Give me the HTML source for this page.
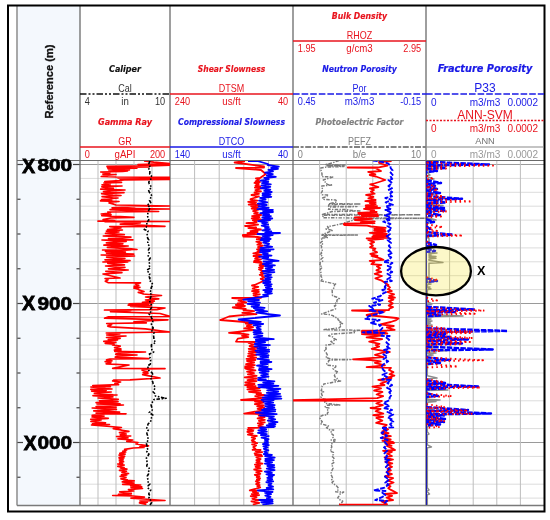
<!DOCTYPE html>
<html><head><meta charset="utf-8"><title>Well log</title>
<style>html,body{margin:0;padding:0;background:#fff;width:550px;height:520px;overflow:hidden}svg{display:block}</style>
</head><body><svg width="550" height="520" viewBox="0 0 550 520"><rect x="17.5" y="6" width="62.5" height="499.5" fill="#f4f8fd"/><line x1="80" y1="164.5" x2="544" y2="164.5" stroke="#9a9a9a" stroke-width="1" /><line x1="80" y1="178.4" x2="544" y2="178.4" stroke="#dcdcdc" stroke-width="1" /><line x1="80" y1="192.3" x2="544" y2="192.3" stroke="#dcdcdc" stroke-width="1" /><line x1="80" y1="206.2" x2="544" y2="206.2" stroke="#dcdcdc" stroke-width="1" /><line x1="80" y1="220.1" x2="544" y2="220.1" stroke="#dcdcdc" stroke-width="1" /><line x1="80" y1="234.0" x2="544" y2="234.0" stroke="#dcdcdc" stroke-width="1" /><line x1="80" y1="247.9" x2="544" y2="247.9" stroke="#dcdcdc" stroke-width="1" /><line x1="80" y1="261.8" x2="544" y2="261.8" stroke="#dcdcdc" stroke-width="1" /><line x1="80" y1="275.7" x2="544" y2="275.7" stroke="#dcdcdc" stroke-width="1" /><line x1="80" y1="289.6" x2="544" y2="289.6" stroke="#dcdcdc" stroke-width="1" /><line x1="80" y1="303.5" x2="544" y2="303.5" stroke="#9a9a9a" stroke-width="1" /><line x1="80" y1="317.4" x2="544" y2="317.4" stroke="#dcdcdc" stroke-width="1" /><line x1="80" y1="331.3" x2="544" y2="331.3" stroke="#dcdcdc" stroke-width="1" /><line x1="80" y1="345.2" x2="544" y2="345.2" stroke="#dcdcdc" stroke-width="1" /><line x1="80" y1="359.1" x2="544" y2="359.1" stroke="#dcdcdc" stroke-width="1" /><line x1="80" y1="373.0" x2="544" y2="373.0" stroke="#dcdcdc" stroke-width="1" /><line x1="80" y1="386.9" x2="544" y2="386.9" stroke="#dcdcdc" stroke-width="1" /><line x1="80" y1="400.8" x2="544" y2="400.8" stroke="#dcdcdc" stroke-width="1" /><line x1="80" y1="414.7" x2="544" y2="414.7" stroke="#dcdcdc" stroke-width="1" /><line x1="80" y1="428.6" x2="544" y2="428.6" stroke="#dcdcdc" stroke-width="1" /><line x1="80" y1="442.5" x2="544" y2="442.5" stroke="#9a9a9a" stroke-width="1" /><line x1="80" y1="456.4" x2="544" y2="456.4" stroke="#dcdcdc" stroke-width="1" /><line x1="80" y1="470.3" x2="544" y2="470.3" stroke="#dcdcdc" stroke-width="1" /><line x1="80" y1="484.2" x2="544" y2="484.2" stroke="#dcdcdc" stroke-width="1" /><line x1="80" y1="498.1" x2="544" y2="498.1" stroke="#dcdcdc" stroke-width="1" /><line x1="98.0" y1="160.5" x2="98.0" y2="505.5" stroke="#bdbdbd" stroke-width="1" /><line x1="116.0" y1="160.5" x2="116.0" y2="505.5" stroke="#bdbdbd" stroke-width="1" /><line x1="134.0" y1="160.5" x2="134.0" y2="505.5" stroke="#bdbdbd" stroke-width="1" /><line x1="152.0" y1="160.5" x2="152.0" y2="505.5" stroke="#bdbdbd" stroke-width="1" /><line x1="194.6" y1="160.5" x2="194.6" y2="505.5" stroke="#bdbdbd" stroke-width="1" /><line x1="219.2" y1="160.5" x2="219.2" y2="505.5" stroke="#bdbdbd" stroke-width="1" /><line x1="243.8" y1="160.5" x2="243.8" y2="505.5" stroke="#bdbdbd" stroke-width="1" /><line x1="268.4" y1="160.5" x2="268.4" y2="505.5" stroke="#bdbdbd" stroke-width="1" /><line x1="319.6" y1="160.5" x2="319.6" y2="505.5" stroke="#bdbdbd" stroke-width="1" /><line x1="346.2" y1="160.5" x2="346.2" y2="505.5" stroke="#bdbdbd" stroke-width="1" /><line x1="372.8" y1="160.5" x2="372.8" y2="505.5" stroke="#bdbdbd" stroke-width="1" /><line x1="399.4" y1="160.5" x2="399.4" y2="505.5" stroke="#bdbdbd" stroke-width="1" /><line x1="449.6" y1="160.5" x2="449.6" y2="505.5" stroke="#bdbdbd" stroke-width="1" /><line x1="473.2" y1="160.5" x2="473.2" y2="505.5" stroke="#bdbdbd" stroke-width="1" /><line x1="496.8" y1="160.5" x2="496.8" y2="505.5" stroke="#bdbdbd" stroke-width="1" /><line x1="520.4" y1="160.5" x2="520.4" y2="505.5" stroke="#bdbdbd" stroke-width="1" /><line x1="17" y1="164.5" x2="23" y2="164.5" stroke="#444" stroke-width="1.2" /><line x1="73" y1="164.5" x2="80" y2="164.5" stroke="#444" stroke-width="1.2" /><line x1="17" y1="199.25" x2="20.5" y2="199.25" stroke="#444" stroke-width="1.2" /><line x1="76.5" y1="199.25" x2="80" y2="199.25" stroke="#444" stroke-width="1.2" /><line x1="17" y1="234.0" x2="20.5" y2="234.0" stroke="#444" stroke-width="1.2" /><line x1="76.5" y1="234.0" x2="80" y2="234.0" stroke="#444" stroke-width="1.2" /><line x1="17" y1="268.75" x2="20.5" y2="268.75" stroke="#444" stroke-width="1.2" /><line x1="76.5" y1="268.75" x2="80" y2="268.75" stroke="#444" stroke-width="1.2" /><line x1="17" y1="303.5" x2="23" y2="303.5" stroke="#444" stroke-width="1.2" /><line x1="73" y1="303.5" x2="80" y2="303.5" stroke="#444" stroke-width="1.2" /><line x1="17" y1="338.25" x2="20.5" y2="338.25" stroke="#444" stroke-width="1.2" /><line x1="76.5" y1="338.25" x2="80" y2="338.25" stroke="#444" stroke-width="1.2" /><line x1="17" y1="373.0" x2="20.5" y2="373.0" stroke="#444" stroke-width="1.2" /><line x1="76.5" y1="373.0" x2="80" y2="373.0" stroke="#444" stroke-width="1.2" /><line x1="17" y1="407.75" x2="20.5" y2="407.75" stroke="#444" stroke-width="1.2" /><line x1="76.5" y1="407.75" x2="80" y2="407.75" stroke="#444" stroke-width="1.2" /><line x1="17" y1="442.5" x2="23" y2="442.5" stroke="#444" stroke-width="1.2" /><line x1="73" y1="442.5" x2="80" y2="442.5" stroke="#444" stroke-width="1.2" /><line x1="17" y1="477.25" x2="20.5" y2="477.25" stroke="#444" stroke-width="1.2" /><line x1="76.5" y1="477.25" x2="80" y2="477.25" stroke="#444" stroke-width="1.2" /><line x1="80" y1="6" x2="80" y2="505.5" stroke="#6a6a6a" stroke-width="1.3" /><line x1="170" y1="6" x2="170" y2="505.5" stroke="#6a6a6a" stroke-width="1.3" /><line x1="293" y1="6" x2="293" y2="505.5" stroke="#6a6a6a" stroke-width="1.3" /><line x1="426" y1="6" x2="426" y2="505.5" stroke="#6a6a6a" stroke-width="1.3" /><line x1="17" y1="6" x2="17" y2="505.5" stroke="#7a7a7a" stroke-width="1.3" /><line x1="17" y1="160.5" x2="544" y2="160.5" stroke="#6a6a6a" stroke-width="1.2" /><line x1="17" y1="505.5" x2="544" y2="505.5" stroke="#7a7a7a" stroke-width="1.3" /><path d="M8 5.6 H544.5 V511.6 H8 Z" fill="none" stroke="#000" stroke-width="2"/><text x="125.0" y="71.9" font-size="9.1" fill="#111" text-anchor="middle" font-weight="bold" font-style="italic" textLength="32" lengthAdjust="spacingAndGlyphs" font-family="'DejaVu Sans Condensed', 'DejaVu Sans', sans-serif" stroke="#111" stroke-width="0.15">Caliper</text><text transform="translate(125.0 92.0) scale(0.9 1)" font-size="10" fill="#333" text-anchor="middle" font-weight="normal" font-style="normal" font-family="'Liberation Sans', sans-serif" >Cal</text><text transform="translate(84.8 105.2) scale(0.9 1)" font-size="10.2" fill="#333" text-anchor="start" font-weight="normal" font-style="normal" font-family="'Liberation Sans', sans-serif" >4</text><text transform="translate(125.0 105.2) scale(0.95 1)" font-size="10.2" fill="#333" text-anchor="middle" font-weight="normal" font-style="normal" font-family="'Liberation Sans', sans-serif" >in</text><text transform="translate(165.2 105.2) scale(0.9 1)" font-size="10.2" fill="#333" text-anchor="end" font-weight="normal" font-style="normal" font-family="'Liberation Sans', sans-serif" >10</text><line x1="80" y1="94" x2="170" y2="94" stroke="#111" stroke-width="1.7" stroke-dasharray="6.5 2 2 2 2 2"/><text x="125.0" y="124.9" font-size="9.1" fill="#e8141e" text-anchor="middle" font-weight="bold" font-style="italic" textLength="54" lengthAdjust="spacingAndGlyphs" font-family="'DejaVu Sans Condensed', 'DejaVu Sans', sans-serif" stroke="#e8141e" stroke-width="0.15">Gamma Ray</text><text transform="translate(125.0 145.0) scale(0.9 1)" font-size="10" fill="#e8141e" text-anchor="middle" font-weight="normal" font-style="normal" font-family="'Liberation Sans', sans-serif" >GR</text><text transform="translate(84.8 158.2) scale(0.9 1)" font-size="10.2" fill="#e8141e" text-anchor="start" font-weight="normal" font-style="normal" font-family="'Liberation Sans', sans-serif" >0</text><text transform="translate(125.0 158.2) scale(0.95 1)" font-size="10.2" fill="#e8141e" text-anchor="middle" font-weight="normal" font-style="normal" font-family="'Liberation Sans', sans-serif" >gAPI</text><text transform="translate(165.2 158.2) scale(0.9 1)" font-size="10.2" fill="#e8141e" text-anchor="end" font-weight="normal" font-style="normal" font-family="'Liberation Sans', sans-serif" >200</text><line x1="80" y1="147" x2="170" y2="147" stroke="#e8141e" stroke-width="1.7" /><text x="231.5" y="71.9" font-size="9.1" fill="#e8141e" text-anchor="middle" font-weight="bold" font-style="italic" textLength="67.5" lengthAdjust="spacingAndGlyphs" font-family="'DejaVu Sans Condensed', 'DejaVu Sans', sans-serif" stroke="#e8141e" stroke-width="0.15">Shear Slowness</text><text transform="translate(231.5 92.0) scale(0.9 1)" font-size="10" fill="#e8141e" text-anchor="middle" font-weight="normal" font-style="normal" font-family="'Liberation Sans', sans-serif" >DTSM</text><text transform="translate(174.8 105.2) scale(0.9 1)" font-size="10.2" fill="#e8141e" text-anchor="start" font-weight="normal" font-style="normal" font-family="'Liberation Sans', sans-serif" >240</text><text transform="translate(231.5 105.2) scale(0.95 1)" font-size="10.2" fill="#e8141e" text-anchor="middle" font-weight="normal" font-style="normal" font-family="'Liberation Sans', sans-serif" >us/ft</text><text transform="translate(288.2 105.2) scale(0.9 1)" font-size="10.2" fill="#e8141e" text-anchor="end" font-weight="normal" font-style="normal" font-family="'Liberation Sans', sans-serif" >40</text><line x1="170" y1="94" x2="293" y2="94" stroke="#e8141e" stroke-width="1.7" /><text x="231.5" y="124.9" font-size="9.1" fill="#1a1ae6" text-anchor="middle" font-weight="bold" font-style="italic" textLength="107" lengthAdjust="spacingAndGlyphs" font-family="'DejaVu Sans Condensed', 'DejaVu Sans', sans-serif" stroke="#1a1ae6" stroke-width="0.15">Compressional Slowness</text><text transform="translate(231.5 145.0) scale(0.9 1)" font-size="10" fill="#1a1ae6" text-anchor="middle" font-weight="normal" font-style="normal" font-family="'Liberation Sans', sans-serif" >DTCO</text><text transform="translate(174.8 158.2) scale(0.9 1)" font-size="10.2" fill="#1a1ae6" text-anchor="start" font-weight="normal" font-style="normal" font-family="'Liberation Sans', sans-serif" >140</text><text transform="translate(231.5 158.2) scale(0.95 1)" font-size="10.2" fill="#1a1ae6" text-anchor="middle" font-weight="normal" font-style="normal" font-family="'Liberation Sans', sans-serif" >us/ft</text><text transform="translate(288.2 158.2) scale(0.9 1)" font-size="10.2" fill="#1a1ae6" text-anchor="end" font-weight="normal" font-style="normal" font-family="'Liberation Sans', sans-serif" >40</text><line x1="170" y1="147" x2="293" y2="147" stroke="#1a1ae6" stroke-width="1.7" /><text x="359.5" y="18.9" font-size="9.1" fill="#e8141e" text-anchor="middle" font-weight="bold" font-style="italic" textLength="55.3" lengthAdjust="spacingAndGlyphs" font-family="'DejaVu Sans Condensed', 'DejaVu Sans', sans-serif" stroke="#e8141e" stroke-width="0.15">Bulk Density</text><text transform="translate(359.5 39.0) scale(0.9 1)" font-size="10" fill="#e8141e" text-anchor="middle" font-weight="normal" font-style="normal" font-family="'Liberation Sans', sans-serif" >RHOZ</text><text transform="translate(297.8 52.2) scale(0.9 1)" font-size="10.2" fill="#e8141e" text-anchor="start" font-weight="normal" font-style="normal" font-family="'Liberation Sans', sans-serif" >1.95</text><text transform="translate(359.5 52.2) scale(0.95 1)" font-size="10.2" fill="#e8141e" text-anchor="middle" font-weight="normal" font-style="normal" font-family="'Liberation Sans', sans-serif" >g/cm3</text><text transform="translate(421.2 52.2) scale(0.9 1)" font-size="10.2" fill="#e8141e" text-anchor="end" font-weight="normal" font-style="normal" font-family="'Liberation Sans', sans-serif" >2.95</text><line x1="293" y1="41" x2="426" y2="41" stroke="#e8141e" stroke-width="1.7" /><text x="359.5" y="71.9" font-size="9.1" fill="#1a1ae6" text-anchor="middle" font-weight="bold" font-style="italic" textLength="74.6" lengthAdjust="spacingAndGlyphs" font-family="'DejaVu Sans Condensed', 'DejaVu Sans', sans-serif" stroke="#1a1ae6" stroke-width="0.15">Neutron Porosity</text><text transform="translate(359.5 92.0) scale(0.9 1)" font-size="10" fill="#1a1ae6" text-anchor="middle" font-weight="normal" font-style="normal" font-family="'Liberation Sans', sans-serif" >Por</text><text transform="translate(297.8 105.2) scale(0.9 1)" font-size="10.2" fill="#1a1ae6" text-anchor="start" font-weight="normal" font-style="normal" font-family="'Liberation Sans', sans-serif" >0.45</text><text transform="translate(359.5 105.2) scale(0.95 1)" font-size="10.2" fill="#1a1ae6" text-anchor="middle" font-weight="normal" font-style="normal" font-family="'Liberation Sans', sans-serif" >m3/m3</text><text transform="translate(421.2 105.2) scale(0.9 1)" font-size="10.2" fill="#1a1ae6" text-anchor="end" font-weight="normal" font-style="normal" font-family="'Liberation Sans', sans-serif" >-0.15</text><line x1="293" y1="94" x2="426" y2="94" stroke="#1a1ae6" stroke-width="1.7" stroke-dasharray="6.6 2"/><text x="359.5" y="124.9" font-size="9.1" fill="#808080" text-anchor="middle" font-weight="bold" font-style="italic" textLength="87.8" lengthAdjust="spacingAndGlyphs" font-family="'DejaVu Sans Condensed', 'DejaVu Sans', sans-serif" stroke="#808080" stroke-width="0.15">Photoelectric Factor</text><text transform="translate(359.5 145.0) scale(0.9 1)" font-size="10" fill="#808080" text-anchor="middle" font-weight="normal" font-style="normal" font-family="'Liberation Sans', sans-serif" >PEFZ</text><text transform="translate(297.8 158.2) scale(0.9 1)" font-size="10.2" fill="#808080" text-anchor="start" font-weight="normal" font-style="normal" font-family="'Liberation Sans', sans-serif" >0</text><text transform="translate(359.5 158.2) scale(0.95 1)" font-size="10.2" fill="#808080" text-anchor="middle" font-weight="normal" font-style="normal" font-family="'Liberation Sans', sans-serif" >b/e</text><text transform="translate(421.2 158.2) scale(0.9 1)" font-size="10.2" fill="#808080" text-anchor="end" font-weight="normal" font-style="normal" font-family="'Liberation Sans', sans-serif" >10</text><line x1="293" y1="147" x2="426" y2="147" stroke="#5a5a5a" stroke-width="1.7" stroke-dasharray="6 1.6 3 1.6"/><text x="485.0" y="72" font-size="11.3" fill="#1a1ae6" text-anchor="middle" font-weight="bold" font-style="italic" textLength="94.6" lengthAdjust="spacingAndGlyphs" font-family="'DejaVu Sans Condensed', 'DejaVu Sans', sans-serif" stroke="#1a1ae6" stroke-width="0.2">Fracture Porosity</text><text x="485.0" y="92.4" font-size="12" fill="#1a1ae6" text-anchor="middle" font-weight="normal" font-style="normal" font-family="'Liberation Sans', sans-serif" >P33</text><line x1="426" y1="94" x2="544" y2="94" stroke="#1a1ae6" stroke-width="1.7" stroke-dasharray="6.6 2"/><text x="431" y="105.5" font-size="10" fill="#1a1ae6" text-anchor="start" font-weight="normal" font-style="normal" font-family="'Liberation Sans', sans-serif" >0</text><text x="485" y="105.5" font-size="10" fill="#1a1ae6" text-anchor="middle" font-weight="normal" font-style="normal" font-family="'Liberation Sans', sans-serif" >m3/m3</text><text x="538" y="105.5" font-size="10" fill="#1a1ae6" text-anchor="end" font-weight="normal" font-style="normal" font-family="'Liberation Sans', sans-serif" >0.0002</text><text x="485.0" y="118.8" font-size="12" fill="#e8141e" text-anchor="middle" font-weight="normal" font-style="normal" font-family="'Liberation Sans', sans-serif" >ANN-SVM</text><line x1="426" y1="120.5" x2="544" y2="120.5" stroke="#e8141e" stroke-width="1.7" stroke-dasharray="2 1.5"/><text x="431" y="131.8" font-size="10" fill="#e8141e" text-anchor="start" font-weight="normal" font-style="normal" font-family="'Liberation Sans', sans-serif" >0</text><text x="485" y="131.8" font-size="10" fill="#e8141e" text-anchor="middle" font-weight="normal" font-style="normal" font-family="'Liberation Sans', sans-serif" >m3/m3</text><text x="538" y="131.8" font-size="10" fill="#e8141e" text-anchor="end" font-weight="normal" font-style="normal" font-family="'Liberation Sans', sans-serif" >0.0002</text><text x="485.0" y="144.4" font-size="9.2" fill="#707070" text-anchor="middle" font-weight="normal" font-style="normal" font-family="'Liberation Sans', sans-serif" >ANN</text><line x1="426" y1="147" x2="544" y2="147" stroke="#8a8a8a" stroke-width="1.2" /><text x="431" y="157.8" font-size="10" fill="#999" text-anchor="start" font-weight="normal" font-style="normal" font-family="'Liberation Sans', sans-serif" >0</text><text x="485" y="157.8" font-size="10" fill="#999" text-anchor="middle" font-weight="normal" font-style="normal" font-family="'Liberation Sans', sans-serif" >m3/m3</text><text x="538" y="157.8" font-size="10" fill="#999" text-anchor="end" font-weight="normal" font-style="normal" font-family="'Liberation Sans', sans-serif" >0.0002</text><text transform="translate(53.3,81.5) rotate(-90)" font-size="11" font-weight="bold" fill="#111" stroke="#111" stroke-width="0.3" text-anchor="middle" textLength="74" lengthAdjust="spacingAndGlyphs" font-family="'Liberation Sans', sans-serif">Reference (m)</text><text x="37.4" y="171.4" font-size="15.6" font-weight="bold" fill="#000" stroke="#000" stroke-width="0.65" textLength="34.8" lengthAdjust="spacingAndGlyphs" font-family="'Liberation Sans', sans-serif">800</text><text x="22.25" y="172.95" font-size="19.6" font-weight="bold" fill="#000" stroke="#000" stroke-width="0.9" textLength="12.8" lengthAdjust="spacingAndGlyphs" font-family="'Liberation Sans', sans-serif">X</text><text x="37.4" y="309.8" font-size="17.5" font-weight="bold" fill="#000" stroke="#000" stroke-width="0.65" textLength="34.8" lengthAdjust="spacingAndGlyphs" font-family="'Liberation Sans', sans-serif">900</text><text x="22.25" y="310.35" font-size="19.6" font-weight="bold" fill="#000" stroke="#000" stroke-width="0.9" textLength="12.8" lengthAdjust="spacingAndGlyphs" font-family="'Liberation Sans', sans-serif">X</text><text x="37.4" y="448.8" font-size="17.5" font-weight="bold" fill="#000" stroke="#000" stroke-width="0.65" textLength="34.8" lengthAdjust="spacingAndGlyphs" font-family="'Liberation Sans', sans-serif">000</text><text x="23.65" y="450.25" font-size="19.6" font-weight="bold" fill="#000" stroke="#000" stroke-width="0.9" textLength="12.8" lengthAdjust="spacingAndGlyphs" font-family="'Liberation Sans', sans-serif">X</text><defs><clipPath id="c0"><rect x="80" y="161" width="90" height="344.5"/></clipPath><clipPath id="c1"><rect x="170" y="161" width="123" height="344.5"/></clipPath><clipPath id="c2"><rect x="293" y="161" width="133" height="344.5"/></clipPath><clipPath id="c3"><rect x="426" y="161" width="118" height="344.5"/></clipPath></defs><g clip-path="url(#c0)"><path d="M144.0 161.0L153.8 162.1L170.0 163.5L138.0 164.5L170.0 165.2L150.0 165.8L107.0 166.4L148.7 166.9L107.5 167.5L137.0 168.1L108.0 168.7L113.2 169.0L129.4 169.9L108.8 170.0L127.5 171.0L122.6 171.5L100.7 172.0L109.9 172.9L102.9 174.1L116.0 174.5L108.6 175.2L101.3 176.5L116.0 177.0L170.0 177.3L118.0 177.8L170.0 178.3L120.0 178.8L170.0 179.3L124.0 179.8L119.5 180.5L104.8 181.5L121.5 182.4L103.9 183.0L110.3 183.8L102.1 184.9L110.8 185.8L122.0 186.0L101.8 186.8L113.5 188.3L100.7 189.2L125.0 190.0L111.7 190.6L103.5 191.7L113.5 192.6L124.0 192.7L101.6 193.7L112.8 195.2L121.0 195.5L102.1 196.6L113.6 198.0L118.0 198.0L101.5 199.5L111.7 200.0L100.5 200.9L119.0 201.5L110.3 202.1L109.1 203.0L112.8 203.9L115.9 205.0L170.0 206.0L135.6 206.5L112.1 207.9L135.4 208.7L170.0 209.0L110.1 209.7L143.5 211.1L158.6 211.5L107.8 212.0L110.5 213.0L101.2 214.0L111.1 214.8L101.8 215.7L134.0 217.3L111.0 218.0L103.1 219.5L114.8 220.7L98.0 221.2L170.0 221.5L105.0 221.8L119.9 222.0L140.3 222.8L120.3 224.1L137.5 225.0L165.0 226.3L109.8 226.6L120.9 228.0L107.5 229.5L122.4 230.0L106.4 231.1L118.9 231.9L105.5 233.3L124.3 234.7L103.3 236.0L130.9 237.2L108.5 238.5L132.9 239.9L102.0 240.0L126.1 241.4L106.4 242.9L122.9 243.8L103.9 245.2L128.2 246.0L107.4 247.4L131.4 248.8L137.0 249.5L102.6 250.0L130.9 250.0L105.5 251.4L125.4 252.2L106.6 253.1L133.8 254.1L101.2 255.0L134.5 256.0L106.6 257.2L124.9 258.5L105.0 259.8L130.0 260.7L102.9 262.0L127.7 262.0L107.8 263.3L124.4 264.8L105.6 266.0L124.9 267.4L108.5 268.8L128.2 270.0L105.8 271.3L121.9 272.6L103.0 274.0L107.3 275.0L120.0 278.0L105.1 278.5L108.0 279.8L105.3 281.2L108.0 282.6L140.5 282.8L140.2 283.0L135.4 283.9L138.7 285.3L134.2 286.4L139.9 287.4L133.8 288.0L138.2 289.2L139.2 290.0L144.0 291.5L138.3 292.4L143.0 293.6L142.9 294.0L161.5 295.5L145.6 297.0L158.7 298.9L145.5 300.0L154.3 301.1L142.5 302.4L153.0 303.0L129.1 303.8L148.6 304.5L128.2 305.1L151.2 305.6L130.6 306.3L165.0 308.0L157.0 309.6L104.5 310.0L130.8 310.5L110.5 311.7L160.0 313.5L170.0 316.5L108.5 316.8L104.6 318.2L168.0 319.8L145.9 321.0L134.0 321.9L146.3 322.9L106.7 323.5L111.6 324.8L107.7 326.1L110.6 326.9L145.5 328.8L170.0 332.0L106.3 333.0L119.8 333.9L106.7 335.0L118.3 336.0L126.0 336.0L106.5 337.5L120.2 338.3L108.3 339.6L117.5 340.0L103.8 341.3L115.8 342.4L105.2 343.3L114.1 344.2L112.6 345.0L120.2 346.2L114.6 347.6L120.8 348.9L114.4 350.0L121.0 350.0L114.8 351.3L145.5 352.0L118.9 353.0L115.7 354.2L137.0 355.0L117.3 356.0L115.2 357.2L148.7 358.6L109.9 359.0L106.6 359.8L111.9 360.8L105.2 361.7L110.8 362.7L106.2 363.9L129.0 365.0L112.7 368.3L165.0 368.6L148.5 369.0L142.1 370.2L147.8 371.7L143.2 372.6L147.9 373.4L142.7 374.6L147.6 375.6L160.0 378.0L130.0 379.8L114.0 380.0L112.7 381.0L120.6 382.0L114.9 383.3L118.5 384.6L92.8 385.5L110.4 386.6L90.9 387.0L105.5 388.5L112.0 389.0L90.9 389.4L106.2 390.3L91.7 391.2L111.2 392.0L94.3 393.3L113.3 394.8L117.0 395.0L93.0 395.7L112.9 396.9L98.1 398.0L118.3 399.3L99.4 400.8L118.0 401.6L96.1 402.7L120.0 403.9L97.0 404.0L123.4 405.0L119.3 405.1L96.1 406.5L116.1 407.3L92.2 408.0L116.4 409.4L93.8 410.9L119.6 412.2L96.1 413.2L126.0 413.8L105.4 414.0L92.2 415.3L104.0 416.1L92.0 417.0L108.3 418.3L90.7 419.3L101.1 420.0L90.9 421.5L105.5 422.8L92.5 423.9L109.5 424.5L91.5 425.0L116.0 427.0L121.4 427.5L113.3 428.6L120.9 429.8L120.2 430.0L128.9 431.4L119.5 432.6L126.2 434.0L120.3 434.9L126.5 435.8L130.7 436.0L116.6 436.5L128.0 437.8L118.0 438.8L132.8 440.0L126.8 441.3L138.0 442.5L136.0 444.0L148.5 445.8L140.0 446.6L144.0 447.5L133.3 448.0L124.6 449.4L126.7 450.0L122.7 451.2L125.7 452.0L119.8 453.3L125.1 454.2L119.1 455.2L124.6 456.3L119.1 457.6L123.9 458.0L119.3 458.9L123.1 459.8L119.4 460.8L123.5 461.7L119.7 462.9L122.6 463.9L117.7 464.0L124.2 465.0L117.8 466.3L124.1 467.5L120.4 468.0L126.9 469.1L119.5 470.3L126.4 471.3L122.0 472.5L128.5 473.5L121.5 474.8L126.8 475.0L120.2 476.3L126.0 477.4L121.0 478.8L127.3 479.9L123.3 480.0L134.2 480.9L122.3 481.9L134.0 483.1L122.7 484.3L140.7 485.0L130.6 485.8L141.7 486.8L131.1 487.6L142.5 488.5L128.5 489.6L133.7 491.0L119.7 491.9L131.3 493.4L118.5 494.4L131.5 495.3L112.7 495.5L133.1 496.0L144.4 497.2L131.0 498.1L143.4 499.0L165.0 500.5L139.9 501.0L147.3 502.1L139.5 502.9L146.4 504.4" fill="none" stroke="#ff0000" stroke-width="1.7" stroke-linejoin="round" /><path d="M149.9 161.0L148.9 163.5L150.0 166.0L148.3 168.0L149.7 170.0L149.9 172.0L149.7 174.0L151.5 176.0L150.6 178.0L150.8 180.0L148.7 182.0L149.3 184.0L150.8 186.0L151.3 188.0L148.5 190.0L149.2 192.0L150.9 194.0L151.8 196.0L150.6 198.0L149.5 200.3L150.7 202.7L147.3 205.0L150.2 207.5L148.9 210.0L148.0 212.5L147.6 215.0L147.8 217.5L148.9 220.0L146.5 222.5L147.2 225.0L146.2 227.2L144.2 229.5L148.1 231.0L147.0 233.5L147.4 236.0L147.6 238.0L148.8 240.0L147.8 242.0L147.9 244.0L149.3 246.0L149.4 248.0L148.4 250.0L149.4 252.0L148.6 254.0L148.2 256.0L150.2 258.0L149.1 260.0L149.1 262.0L149.7 264.0L149.4 266.0L150.4 268.0L146.9 270.0L148.3 272.0L149.8 274.0L148.5 276.0L150.0 278.0L149.1 280.0L151.8 282.5L152.8 285.0L151.2 287.5L151.1 290.0L149.9 292.5L151.6 295.0L150.6 297.5L149.8 300.0L149.9 302.5L151.5 305.0L151.6 307.5L149.9 310.0L150.7 312.0L149.0 314.0L151.1 316.0L151.4 318.0L153.0 320.0L152.7 322.0L151.4 324.0L151.9 326.0L153.3 328.0L151.2 330.3L154.0 332.7L153.5 335.0L153.8 337.5L154.0 340.0L155.7 342.5L151.3 345.0L151.5 347.3L151.8 349.7L153.7 352.0L149.4 354.0L150.3 356.0L150.0 358.0L150.7 360.0L150.3 362.0L150.4 364.0L147.6 366.0L148.1 368.0L148.7 370.3L151.9 372.7L153.1 375.0L150.4 377.3L151.5 379.7L152.8 382.0L153.1 384.0L154.4 386.0L155.2 388.0L153.9 390.0L153.1 392.0L155.3 394.0L155.4 396.0L166.1 398.3L154.0 399.5L152.4 402.2L151.1 405.0L151.8 407.5L152.3 410.0L149.2 412.5L152.8 415.0L151.5 417.5L151.2 420.0L150.3 422.0L148.0 424.0L147.7 426.0L146.8 428.0L148.4 430.0L146.7 432.0L147.0 434.0L147.8 436.0L148.0 438.0L148.2 440.0L147.0 442.0L146.5 444.0L147.1 446.0L147.1 448.0L148.1 450.0L146.7 452.0L149.0 454.0L147.8 456.0L146.4 458.0L146.8 460.0L147.0 462.0L147.3 464.0L146.7 466.0L149.0 468.0L149.6 470.0L148.2 472.0L148.5 474.0L147.3 476.0L147.4 478.0L148.2 480.0L148.1 482.0L149.9 484.0L148.0 486.0L147.7 488.0L150.7 490.0L149.6 492.0L148.7 494.0L150.1 496.0L148.8 498.0L150.5 500.0L151.6 502.5L150.0 505.0" fill="none" stroke="#000" stroke-width="1.6" stroke-linejoin="round" stroke-dasharray="3.5 1.6 1.6 1.6 1.6 1.6" /></g><g clip-path="url(#c1)"><path d="M245.0 161.0L234.6 162.5L264.0 166.4L264.0 167.5L236.0 168.0L261.0 170.0L265.8 174.0L260.0 178.0L255.9 178.5L259.1 179.8L255.6 181.3L259.9 182.0L254.5 183.0L258.8 184.1L255.5 185.5L260.2 186.5L254.9 187.5L261.2 188.5L255.4 190.1L261.0 191.3L254.5 192.3L258.9 193.8L251.5 195.0L258.9 196.5L250.6 199.0L250.5 199.5L257.3 200.7L248.2 201.9L256.1 202.9L248.7 204.6L259.2 205.0L251.2 206.3L257.9 207.4L251.7 208.6L258.4 209.6L253.1 211.1L257.8 212.5L254.2 213.7L261.1 215.0L252.1 216.1L259.5 217.1L251.7 218.4L260.9 219.5L252.8 220.5L256.7 222.0L246.4 223.1L258.1 224.6L245.0 226.0L248.4 226.1L256.1 227.5L248.3 228.0L260.9 229.5L250.4 231.2L257.7 232.0L247.4 233.2L258.7 234.2L243.0 235.0L242.8 235.2L243.4 236.5L257.8 237.0L262.0 238.0L256.8 239.2L262.4 240.2L256.4 241.7L261.4 243.1L257.4 244.7L262.9 245.6L258.0 247.1L262.3 248.2L257.0 249.4L261.0 250.7L257.5 251.7L260.2 252.0L253.3 253.3L261.3 254.9L253.5 256.0L259.8 257.0L255.1 258.5L261.0 259.4L254.4 260.7L261.1 261.8L253.8 262.0L258.8 262.5L264.3 263.8L259.5 265.1L264.0 266.0L259.0 267.5L263.0 268.0L259.0 269.5L263.5 271.1L260.7 272.6L264.2 273.5L259.7 274.8L262.8 275.7L261.8 276.0L264.4 277.5L260.7 278.9L264.5 280.5L254.6 285.0L252.0 285.5L258.3 286.9L252.7 288.5L258.8 289.9L252.0 291.1L258.9 292.0L253.4 293.5L259.8 294.4L253.6 295.5L261.0 297.8L232.2 298.0L246.6 299.0L243.1 299.5L238.5 300.7L246.3 302.3L237.6 303.3L243.3 304.4L235.8 305.0L245.0 306.0L232.7 307.5L245.8 309.0L243.4 310.0L254.1 311.2L242.3 312.8L256.5 314.1L242.1 315.2L229.0 316.5L220.2 320.0L245.0 322.0L253.9 322.5L245.6 323.5L251.7 324.7L246.7 326.0L253.1 327.1L244.2 328.4L253.9 329.9L229.0 332.8L240.0 333.5L248.5 334.6L242.0 335.9L248.3 337.1L237.8 338.6L236.0 341.6L255.1 342.0L248.7 343.0L253.7 344.6L249.5 346.0L257.2 347.6L248.7 348.8L257.0 350.3L248.9 351.3L257.0 352.0L248.4 353.6L256.4 354.9L247.9 356.2L256.3 357.7L246.6 358.9L255.4 360.0L247.0 361.0L254.1 362.5L246.1 364.2L254.8 365.1L245.2 366.5L253.7 367.6L245.0 368.0L246.0 368.8L255.4 370.4L247.1 371.6L254.0 373.1L247.9 374.3L256.6 375.8L244.7 377.4L256.8 378.5L247.5 380.1L256.5 381.2L245.3 382.5L254.5 384.0L245.0 385.2L255.6 386.1L247.3 387.1L259.8 388.0L247.4 389.3L260.3 390.7L249.0 391.9L261.1 393.2L256.5 394.0L264.7 395.1L255.2 396.1L265.8 397.6L255.3 398.7L241.0 400.0L263.4 400.5L254.9 401.5L263.4 402.7L254.8 404.2L263.8 405.3L257.2 406.3L264.1 407.7L257.6 408.8L264.0 410.0L257.1 411.3L244.2 413.6L265.4 414.0L258.7 415.7L264.6 417.0L257.6 418.4L264.8 419.9L258.9 420.9L264.7 422.4L257.8 423.4L262.9 424.5L258.4 425.8L264.2 427.6L248.2 428.0L254.0 428.5L247.6 429.8L253.3 430.9L247.3 431.9L252.7 433.5L247.9 434.6L256.8 436.0L251.7 437.4L255.1 438.7L251.7 440.2L254.9 441.7L252.2 442.0L257.1 443.2L252.1 444.4L256.2 445.5L253.3 447.0L255.4 448.6L252.6 449.9L260.6 450.0L255.6 451.1L262.2 452.2L254.6 453.4L261.1 454.8L255.1 455.0L262.2 456.2L256.4 457.4L260.6 459.1L256.4 460.2L259.7 461.2L256.4 462.4L262.5 463.6L254.9 464.7L260.1 465.8L255.6 466.9L260.6 468.4L254.2 469.5L261.7 471.1L256.3 472.2L260.3 473.8L254.8 474.9L259.5 476.1L256.7 477.1L260.1 478.3L256.9 479.4L259.5 480.0L255.8 481.3L259.4 482.6L256.1 484.1L259.7 485.1L257.3 486.1L260.2 487.3L256.3 488.7L249.8 490.4L256.8 491.0L252.9 492.1L258.3 493.1L251.7 494.2L259.1 495.2L250.7 496.2L256.5 497.4L252.4 498.8L258.8 500.0L251.4 501.3L259.2 503.0L252.8 504.6" fill="none" stroke="#ff0000" stroke-width="1.8" stroke-linejoin="round" /><path d="M248.0 161.0L258.0 161.2L268.0 164.0L267.6 165.0L278.8 166.6L277.0 167.0L271.2 167.9L278.0 168.9L268.4 170.0L273.0 171.3L265.1 172.6L272.8 174.1L266.8 175.5L275.8 176.8L264.2 178.0L268.7 179.3L260.5 180.6L268.3 181.9L262.0 183.1L270.8 184.4L261.5 185.5L270.3 186.8L260.7 188.1L270.3 189.6L264.2 190.8L271.7 192.0L262.6 193.5L270.6 194.5L262.5 195.5L271.3 196.9L260.1 198.0L265.6 199.5L259.0 200.7L267.3 202.3L257.9 203.6L266.7 205.0L258.6 206.5L268.7 207.8L257.5 209.2L272.9 210.0L263.0 211.0L273.0 212.0L260.3 213.1L269.1 214.5L263.0 215.4L270.9 216.2L262.3 217.4L272.3 218.5L262.0 219.6L270.2 220.0L258.1 221.2L267.1 222.4L262.2 223.2L268.1 224.7L261.7 225.6L268.8 227.1L265.0 228.0L269.8 229.2L262.3 230.4L271.3 231.4L265.3 232.7L280.0 233.0L269.7 233.7L257.6 234.0L272.8 235.0L262.7 236.0L269.6 236.9L261.4 238.2L270.7 239.0L260.6 240.0L269.3 241.0L263.2 242.5L269.1 243.8L264.5 245.4L272.2 246.8L260.6 247.8L273.6 249.3L260.1 250.0L270.1 251.0L260.0 252.1L267.5 253.3L263.0 254.4L271.5 255.6L259.2 256.6L268.2 257.5L262.3 258.4L270.5 259.6L278.6 260.8L263.4 261.5L271.9 262.8L262.9 264.2L274.9 265.3L265.0 266.2L272.1 267.2L265.7 268.5L274.1 269.8L262.8 271.1L274.4 272.2L263.9 273.4L271.0 274.8L265.0 276.0L271.7 277.3L265.4 278.5L270.5 279.6L263.1 280.6L270.4 282.0L263.1 283.0L271.7 284.4L264.9 285.3L271.0 286.3L265.9 287.7L272.2 289.0L263.3 290.1L271.6 291.0L265.1 292.1L271.9 293.4L263.1 294.8L268.0 296.0L243.4 299.6L259.0 300.0L248.2 301.3L259.9 302.7L247.6 303.8L259.2 305.0L251.6 306.5L264.6 307.9L253.8 308.0L263.7 308.9L255.2 310.0L267.2 311.4L256.5 312.7L266.1 313.8L280.0 315.5L238.6 319.5L245.5 320.5L260.8 321.9L249.2 322.9L263.2 324.0L253.4 325.0L260.6 326.5L256.6 327.8L260.7 329.3L253.7 330.4L260.9 331.5L253.5 332.4L262.5 333.4L254.0 334.4L262.4 335.9L254.1 337.3L263.2 338.2L273.8 339.2L255.8 339.6L268.3 340.0L255.7 341.5L265.1 342.4L254.8 344.0L269.9 345.1L254.5 346.3L266.1 347.6L257.4 348.8L269.2 349.8L255.4 350.8L269.2 351.7L256.9 352.0L267.1 353.3L256.4 354.5L268.6 355.5L260.4 356.5L268.0 357.4L257.5 358.8L269.0 360.2L260.6 361.5L271.4 362.0L260.5 363.0L267.5 364.1L257.0 365.6L267.5 367.0L259.3 368.2L271.6 369.2L258.9 370.0L268.7 371.4L259.7 372.6L267.8 374.1L261.2 375.4L268.5 376.7L258.2 377.8L265.8 379.3L258.0 380.0L274.5 381.3L263.2 382.7L273.4 383.7L258.3 384.9L278.4 385.8L258.6 387.1L272.6 388.0L266.5 388.0L280.4 388.9L267.2 390.4L278.3 391.5L266.8 392.9L280.1 393.9L264.6 395.3L280.9 396.3L262.7 397.7L281.4 398.7L261.5 399.8L273.8 400.0L263.3 401.5L273.2 402.6L265.1 403.9L274.7 405.2L265.2 406.2L274.3 407.5L263.9 408.8L275.4 409.7L261.9 410.0L275.1 411.3L255.9 412.7L276.7 414.2L259.6 415.3L273.9 416.7L269.1 418.0L275.2 419.4L267.8 420.7L277.5 422.2L269.2 423.3L275.4 424.3L266.8 425.4L274.9 426.4L273.8 427.0L261.0 427.3L260.2 428.0L266.2 429.4L258.4 430.4L266.8 431.7L258.0 432.9L266.8 434.2L260.9 435.1L268.7 436.2L261.6 437.7L268.5 439.2L264.9 440.0L267.8 441.2L264.6 442.1L268.1 442.9L262.9 444.1L268.8 445.2L263.4 446.3L267.6 447.5L263.9 448.9L268.4 450.3L264.3 451.6L267.3 453.1L263.7 454.0L271.9 455.0L265.1 456.2L274.7 457.7L265.3 459.0L273.9 460.1L265.2 461.0L272.1 462.3L264.9 463.7L274.2 465.1L267.3 466.0L274.4 467.5L266.8 468.6L274.6 470.1L264.9 471.6L271.9 473.0L266.4 474.4L274.1 475.0L268.6 475.9L272.4 476.8L267.3 477.9L272.2 479.2L267.4 480.2L273.2 481.3L266.3 482.2L271.5 483.6L268.5 485.1L273.0 486.6L266.7 488.0L273.3 489.3L257.8 490.5L264.9 491.0L272.6 492.0L265.1 492.8L271.0 494.2L265.3 495.6L270.5 496.9L266.9 498.1L272.5 499.6L259.2 500.0L272.6 501.4L261.2 502.3L272.7 503.4L262.4 504.6" fill="none" stroke="#0000ff" stroke-width="1.8" stroke-linejoin="round" /></g><g clip-path="url(#c2)"><path d="M339.0 160.5L332.0 163.0L326.0 164.5L345.0 165.0L326.0 165.8L344.0 166.5L325.0 167.2L320.8 168.0L321.3 169.5L321.0 170.8L321.5 172.0L322.0 173.8L322.0 175.1L321.7 176.6L332.7 177.0L323.3 180.0L325.2 182.0L325.4 183.3L328.7 184.8L332.7 185.0L321.8 186.0L322.6 187.6L321.8 189.6L322.4 190.9L321.3 193.0L322.3 194.8L328.6 195.0L325.3 196.8L322.6 198.0L323.7 199.4L335.8 200.0L336.8 202.0L329.0 203.6L361.0 204.0L329.0 204.5L328.5 206.2L357.0 206.6L330.0 207.0L328.5 209.3L347.0 209.6L349.0 210.3L360.0 211.0L332.0 211.5L322.5 214.5L420.8 214.8L323.0 215.3L323.0 217.8L426.0 218.2L353.6 218.7L353.6 220.0L342.7 223.5L331.8 226.0L327.5 226.5L328.5 227.8L326.0 229.0L332.9 230.3L322.0 234.8L358.0 235.0L322.0 235.4L324.1 236.0L328.0 237.5L321.0 238.0L322.1 239.6L322.4 241.1L320.4 242.8L322.5 244.0L320.7 245.2L321.7 246.7L321.3 248.6L322.2 250.2L321.1 251.6L321.6 253.3L320.1 254.4L321.6 255.7L322.9 257.5L321.0 259.3L322.7 261.2L320.1 262.6L320.2 264.1L319.5 265.4L321.9 266.7L321.8 267.8L320.4 269.1L320.4 271.1L320.8 272.3L321.2 274.1L320.9 276.1L321.8 277.7L322.1 279.3L320.4 280.8L335.6 284.0L334.5 284.5L334.4 286.5L333.7 288.2L332.2 290.0L332.2 291.3L332.3 292.7L332.4 294.5L332.6 295.8L336.3 297.0L339.4 298.7L336.9 300.1L336.9 302.0L336.3 302.0L335.5 303.3L336.5 304.8L334.4 306.0L335.6 307.4L335.5 308.9L321.6 314.0L328.8 314.5L333.2 315.7L334.4 317.1L337.7 318.0L338.1 319.8L340.6 321.8L338.9 322.0L342.5 323.7L339.4 325.3L340.5 326.6L339.2 327.9L323.0 329.8L359.8 330.2L353.8 331.0L355.6 332.6L332.3 334.0L328.7 335.7L333.5 337.2L333.8 338.5L336.3 339.7L330.9 341.5L333.9 343.5L329.4 344.7L326.0 345.0L325.5 346.2L325.9 347.3L326.2 349.0L324.1 350.2L325.8 352.0L326.7 353.6L327.6 355.6L325.8 357.4L331.8 359.3L351.0 359.6L331.0 360.0L328.7 360.5L328.4 361.7L326.8 363.7L326.9 365.2L335.9 366.0L335.5 367.2L333.1 368.7L334.7 370.6L338.0 372.0L335.8 373.5L334.4 375.4L334.9 376.7L337.2 378.6L334.3 379.9L340.6 381.0L323.8 384.0L323.9 384.5L322.1 386.0L322.1 387.4L321.7 389.2L321.1 390.5L323.6 391.8L321.7 392.0L321.5 393.9L322.3 395.7L320.9 396.9L322.6 398.8L328.2 400.0L324.6 401.6L325.2 403.3L340.6 405.0L327.0 405.2L324.6 407.1L328.9 408.0L327.6 410.0L328.5 411.7L327.4 413.0L327.4 414.9L323.5 415.0L320.5 416.4L319.9 418.1L320.8 420.1L322.3 421.8L320.4 423.7L325.2 425.0L329.1 426.2L326.5 427.7L329.1 429.7L333.7 430.0L331.4 431.3L330.8 433.2L333.4 435.0L332.3 436.7L334.1 438.7L335.2 439.9L331.1 440.0L334.7 441.2L333.0 443.1L330.9 444.4L331.6 446.0L331.8 447.1L330.5 449.0L330.9 450.0L330.1 451.2L333.4 452.4L333.4 454.4L331.9 456.3L333.6 457.7L334.3 459.4L332.5 460.9L333.8 462.7L331.7 464.0L332.3 465.1L332.5 467.1L333.0 468.4L332.1 470.0L331.7 471.8L331.0 473.2L331.1 474.8L331.8 476.1L332.5 477.9L332.4 478.0L331.6 479.5L333.5 481.1L332.0 482.3L333.0 483.7L335.7 485.0L337.3 486.7L338.5 488.5L338.0 490.0L335.7 491.9L343.7 492.0L340.0 494.0L338.9 496.1L337.8 497.6L338.9 499.3L342.7 501.1L342.0 502.4L339.5 504.0" fill="none" stroke="#7a7a7a" stroke-width="1.45" stroke-linejoin="round" stroke-dasharray="3.5 1.3 1.4 1.3" /><path d="M391.6 161.0L379.0 162.0L379.2 163.0L387.5 165.5L379.0 167.3L347.8 167.5L376.0 168.0L376.1 168.5L381.0 171.0L368.2 172.0L375.4 174.3L369.7 175.0L376.0 176.5L385.3 180.0L372.8 184.0L370.2 184.5L378.4 187.1L369.9 188.5L374.0 190.0L370.9 191.6L374.6 193.7L366.1 195.0L373.4 196.9L368.4 198.4L375.6 200.0L365.3 201.2L375.7 202.2L369.7 203.0L375.8 204.1L365.7 205.3L377.1 206.2L365.7 207.1L380.1 208.0L364.0 208.9L374.3 210.3L370.5 211.6L376.7 212.0L358.2 212.9L359.0 214.0L377.6 214.1L361.7 215.4L378.2 216.0L354.8 217.4L372.1 218.8L354.8 220.0L374.7 221.4L360.8 222.5L374.5 223.2L344.0 223.6L352.4 224.4L343.8 224.5L345.0 225.2L367.1 225.7L371.1 226.5L385.7 227.9L374.2 228.8L380.6 229.7L385.0 230.0L374.2 230.5L385.7 231.5L369.7 232.8L386.8 234.0L373.4 235.1L388.3 236.0L372.3 236.9L387.3 237.8L366.6 238.4L383.4 238.8L368.2 240.0L374.1 242.1L370.2 243.6L372.9 245.6L370.0 247.3L375.4 248.7L373.0 250.0L377.1 252.4L370.3 253.8L377.5 255.9L371.5 256.0L380.3 258.4L383.4 259.9L369.7 260.9L374.4 262.0L371.4 264.2L381.4 265.0L376.9 266.5L380.2 268.2L376.4 270.4L381.2 271.9L374.7 273.8L382.0 276.0L375.4 278.4L381.8 280.7L388.5 285.0L387.3 285.5L390.0 287.4L387.9 289.1L391.8 291.1L387.4 292.0L394.1 294.3L389.2 295.9L394.9 297.7L388.6 298.0L393.4 299.6L388.8 301.3L392.7 303.4L388.7 305.6L393.0 307.1L389.4 308.6L389.0 310.0L352.0 310.5L384.7 311.5L366.6 315.0L396.3 318.0L398.5 318.5L395.5 320.4L390.8 322.0L380.3 324.3L393.8 326.0L386.8 327.5L394.6 329.9L387.0 330.3L362.0 330.6L386.0 331.5L361.7 332.0L387.4 333.5L361.8 334.0L380.9 335.7L366.6 337.4L382.2 339.2L369.2 341.6L379.5 343.9L375.6 345.0L379.1 346.6L371.7 348.8L389.8 352.0L383.1 352.5L375.0 354.8L383.4 357.2L353.0 359.3L370.8 360.0L380.7 361.5L374.9 362.9L384.9 365.3L366.6 367.2L391.0 367.8L389.0 370.0L393.4 372.1L389.6 374.2L394.4 375.6L388.0 377.5L391.6 378.0L378.3 379.9L386.7 381.4L380.5 383.7L384.5 385.0L372.5 386.7L381.1 388.3L374.1 390.5L382.4 392.0L376.6 394.5L383.2 396.1L377.3 398.2L293.0 400.1L293.0 400.5L378.0 400.8L381.9 401.0L376.3 403.5L382.8 405.2L375.3 407.4L370.5 408.0L380.6 409.0L375.6 411.2L383.3 413.6L373.2 415.1L383.2 416.8L376.4 418.0L382.3 420.6L376.2 422.9L386.7 425.0L383.2 427.2L388.1 429.3L382.3 431.4L388.5 433.2L382.3 434.0L390.8 436.2L381.4 437.9L390.7 439.5L382.4 440.9L392.9 442.0L394.0 443.0L385.3 443.7L391.6 445.8L386.9 446.0L392.2 448.3L395.0 450.0L383.0 450.8L391.9 452.0L387.2 453.8L391.9 456.0L384.6 457.4L393.0 459.5L385.3 461.8L392.3 463.3L387.6 464.7L392.0 466.8L387.5 468.7L390.9 470.3L386.6 472.0L391.9 474.1L384.9 476.3L393.1 478.1L387.6 480.6L393.6 482.5L387.3 484.8L390.5 486.4L388.2 488.2L391.0 489.9L397.0 493.0L384.7 494.0L392.1 495.8L386.6 497.7L393.1 500.0L381.6 501.5L387.0 504.3L339.0 504.6" fill="none" stroke="#ff0000" stroke-width="1.8" stroke-linejoin="round" /><path d="M372.8 160.5L377.5 161.0L387.0 163.0L388.1 163.5L390.3 165.6L390.6 168.0L392.5 170.4L390.6 172.7L392.6 174.8L390.7 176.6L392.2 178.9L388.5 180.0L392.1 183.1L388.5 186.1L392.0 188.2L388.8 189.9L392.2 192.1L389.3 193.9L392.1 196.4L385.4 198.0L391.9 200.0L385.7 202.3L392.9 204.8L385.7 206.5L391.3 209.4L385.4 210.0L392.0 213.0L384.8 215.4L390.7 217.2L385.9 219.5L389.5 220.0L383.3 221.7L390.4 223.9L387.4 226.0L391.8 228.8L388.1 231.1L390.0 234.0L386.1 236.9L390.5 238.9L387.6 240.0L391.0 243.0L388.8 245.8L391.0 248.5L388.5 250.8L392.4 252.7L387.6 255.5L391.2 257.3L388.8 260.0L383.4 262.0L392.4 263.0L387.8 265.9L391.9 267.8L387.6 270.2L392.2 272.0L387.5 273.8L391.7 276.6L387.3 279.2L391.8 281.0L384.7 282.0L386.4 284.3L384.7 287.1L386.4 289.0L382.3 290.0L385.9 292.2L381.6 294.2L380.6 296.0L372.3 298.6L382.4 300.0L374.0 302.7L380.1 304.7L369.2 306.0L374.0 308.8L369.6 310.5L384.0 312.0L378.4 313.8L369.1 316.0L365.4 318.9L379.7 320.0L370.3 323.1L380.9 325.2L379.8 326.0L382.4 328.0L380.6 330.2L362.7 332.4L384.2 333.0L381.5 335.9L389.7 336.0L386.6 337.7L389.1 339.8L386.4 342.4L389.5 345.0L387.0 346.8L389.7 348.6L384.1 350.0L388.1 352.4L383.4 354.4L387.5 356.9L383.5 359.0L388.2 361.3L383.6 364.3L382.8 365.0L381.2 367.1L383.0 369.2L383.4 370.0L386.6 373.0L382.5 374.9L387.0 376.9L382.0 379.5L391.0 380.0L387.4 383.1L392.1 385.2L387.1 387.9L391.8 390.0L389.3 392.3L391.5 394.8L389.5 397.8L389.9 400.0L383.5 402.9L389.5 405.9L383.5 408.0L392.0 410.0L387.5 412.0L393.2 414.5L387.7 417.3L392.8 419.7L390.4 420.0L393.3 421.7L390.1 424.3L393.2 427.4L381.9 428.0L386.5 430.6L381.5 432.8L387.1 435.8L380.8 437.9L387.7 440.0L384.8 441.9L387.3 445.0L384.0 447.4L387.4 450.3L384.5 453.4L387.2 456.2L384.0 459.2L389.4 460.0L385.7 462.0L388.7 464.1L385.8 467.1L389.7 468.9L386.0 471.5L388.6 474.2L385.0 476.7L389.0 479.6L385.3 482.7L388.5 484.6L384.7 487.6L373.8 490.4L385.5 491.0L382.4 492.8L385.3 495.1L382.6 496.8L375.3 500.0L387.1 501.0L383.2 504.1" fill="none" stroke="#0000ff" stroke-width="1.9" stroke-linejoin="round" stroke-dasharray="5 1.5" /></g><g clip-path="url(#c3)"><path d="M427.3 161.0L427.3 162.0L427.3 163.5L430.2 164.2L427.3 164.9L445.8 165.7L427.3 166.4L427.3 167.0L432.9 169.2L427.3 169.9L427.3 170.0L430.2 172.2L427.3 172.8L427.3 172.9L430.0 175.0L427.3 175.7L427.3 176.8L434.0 179.0L427.3 179.7L427.3 182.0L431.4 184.2L427.3 184.9L427.3 188.0L430.2 190.2L427.3 190.9L427.3 191.8L427.3 192.0L436.0 194.0L431.1 194.2L427.3 194.7L427.3 194.9L427.3 197.8L437.7 200.0L427.3 200.7L427.3 201.5L427.3 203.3L432.9 203.7L427.3 204.4L443.0 205.5L427.3 206.2L427.3 207.0L432.3 209.2L427.3 209.5L427.3 209.9L432.9 211.7L427.3 212.4L427.3 214.0L431.1 216.2L427.3 216.9L427.3 217.8L436.0 220.0L427.3 220.0L427.3 220.7L434.0 222.2L427.3 222.9L427.3 233.8L435.0 236.0L427.3 236.7L427.3 237.5L429.0 238.5L429.0 250.8L429.0 252.8L437.0 253.0L429.0 253.7L429.0 254.3L431.0 255.0L429.0 255.7L429.0 256.0L436.0 256.5L429.0 257.2L436.0 258.2L429.0 258.9L429.0 260.3L443.0 262.5L429.0 263.2L429.0 277.5L427.3 278.5L427.3 280.0L427.3 281.8L430.2 282.2L427.3 282.9L431.0 284.0L427.3 284.7L427.3 284.8L427.3 286.8L430.0 287.0L427.3 287.7L431.0 289.0L427.3 289.7L427.3 301.8L432.0 304.0L427.3 304.7L427.3 308.5L441.3 310.7L427.3 311.0L427.3 311.4L435.6 313.2L427.3 313.8L427.3 313.9L427.3 314.5L463.0 316.0L427.3 316.7L431.1 316.7L427.3 316.8L427.3 317.4L427.3 318.8L431.0 319.0L427.3 319.7L427.3 320.8L432.0 321.0L427.3 321.7L427.3 322.8L430.5 323.0L427.3 323.7L427.3 324.8L432.0 325.0L427.3 325.7L431.0 327.0L427.3 327.7L427.3 330.0L451.4 332.2L427.3 332.9L427.3 333.0L432.6 335.2L427.3 335.9L427.3 336.0L434.1 338.2L427.3 338.5L427.3 338.9L439.5 340.7L427.3 341.4L427.3 342.5L437.7 344.7L427.3 344.8L427.3 345.4L435.0 347.0L427.3 347.7L427.3 348.5L446.9 350.7L427.3 350.8L427.3 351.4L427.3 352.8L436.0 353.0L427.3 353.7L433.0 355.0L427.3 355.7L427.3 359.0L434.1 361.2L427.3 361.9L427.3 362.0L431.1 364.2L427.3 364.9L427.3 375.8L437.0 378.0L427.3 378.7L427.3 382.0L432.6 384.2L427.3 384.9L427.3 385.5L427.3 387.5L442.5 387.7L427.3 387.8L427.3 388.4L432.6 389.7L448.0 390.0L427.3 390.4L427.3 390.7L427.3 395.0L430.5 397.2L427.3 397.8L427.3 397.9L427.3 399.3L440.0 400.0L427.3 400.7L436.0 401.5L427.3 402.2L427.3 409.0L439.5 411.2L427.3 411.9L427.3 412.5L427.3 414.5L446.4 414.7L427.3 415.4L432.3 416.7L427.3 417.4L427.3 418.0L432.6 420.2L427.3 420.9L427.3 421.0L432.3 423.2L427.3 423.5L427.3 423.9L431.1 425.7L427.3 426.4L427.3 431.8L429.0 434.0L427.3 434.7L427.3 444.8L431.4 447.0L427.3 447.7L427.3 487.8L429.0 490.0L427.3 490.7L427.3 491.8L429.5 494.0L427.3 494.7L427.3 505.0" fill="none" stroke="#8c8c8c" stroke-width="1.5" stroke-linejoin="round" /><line x1="426.4" y1="161" x2="426.4" y2="505" stroke="#1c1cb4" stroke-width="1.2"/><path d="M426.4 158.7L430.0 161.5L426.4 162.4M426.4 160.2L437.0 163.0L426.4 163.9M426.4 161.7L489.0 164.5L426.4 165.4M426.4 165.2L446.0 168.0L426.4 168.9M426.4 168.2L437.0 171.0L426.4 171.9M426.4 180.2L441.0 183.0L426.4 183.9M426.4 183.2L435.0 186.0L426.4 186.9M426.4 186.2L437.0 189.0L426.4 189.9M426.4 190.2L440.0 193.0L426.4 193.9M426.4 196.0L462.0 198.8L426.4 199.7M426.4 199.7L446.0 202.5L426.4 203.4M426.4 205.2L444.0 208.0L426.4 208.9M426.4 207.7L446.0 210.5L426.4 211.4M426.4 212.2L440.0 215.0L426.4 215.9M426.4 219.2L434.0 222.0L426.4 222.9M426.4 226.2L430.0 229.0L426.4 229.9M426.4 232.0L453.0 234.8L426.4 235.7M426.4 242.2L436.0 245.0L426.4 245.9M426.4 248.2L435.0 251.0L426.4 251.9M426.4 278.2L437.0 281.0L426.4 281.9M426.4 306.7L474.0 309.5L426.4 310.4M426.4 309.2L455.0 312.0L426.4 312.9M426.4 312.7L440.0 315.5L426.4 316.4M426.4 328.2L507.5 331.0L426.4 331.9M426.4 331.2L445.0 334.0L426.4 334.9M426.4 334.2L450.0 337.0L426.4 337.9M426.4 336.7L468.0 339.5L426.4 340.4M426.4 340.7L462.0 343.5L426.4 344.4M426.4 346.7L492.7 349.5L426.4 350.4M426.4 357.2L450.0 360.0L426.4 360.9M426.4 360.2L440.0 363.0L426.4 363.9M426.4 380.2L445.0 383.0L426.4 383.9M426.4 383.7L478.0 386.5L426.4 387.4M426.4 385.7L445.0 388.5L426.4 389.4M426.4 393.2L438.0 396.0L426.4 396.9M426.4 407.2L468.0 410.0L426.4 410.9M426.4 410.7L491.0 413.5L426.4 414.4M426.4 412.7L444.0 415.5L426.4 416.4M426.4 416.2L445.0 419.0L426.4 419.9M426.4 419.2L444.0 422.0L426.4 422.9M426.4 421.7L440.0 424.5L426.4 425.4" fill="none" stroke="#0000ff" stroke-width="2.4" stroke-dasharray="5.5 1.3" stroke-linejoin="round"/><path d="M426.6 159.2L432.0 162.0L426.6 162.9M426.6 162.8L493.0 165.6L426.6 166.5M426.6 165.8L446.0 168.6L426.6 169.5M426.6 175.7L432.0 178.5L426.6 179.4M426.6 183.7L435.0 186.5L426.6 187.4M426.6 187.2L438.0 190.0L426.6 190.9M426.6 193.2L441.0 196.0L426.6 196.9M426.6 194.7L445.0 197.5L426.6 198.4M426.6 198.7L472.0 201.5L426.6 202.4M426.6 202.7L440.0 205.5L426.6 206.4M426.6 208.7L447.0 211.5L426.6 212.4M426.6 213.7L441.0 216.5L426.6 217.4M426.6 224.2L443.0 227.0L426.6 227.9M426.6 228.2L437.0 231.0L426.6 231.9M426.6 232.8L463.0 235.6L426.6 236.5M426.6 241.2L430.0 244.0L426.6 244.9M426.6 277.2L438.0 280.0L426.6 280.9M426.6 297.7L437.0 300.5L426.6 301.4M426.6 307.8L484.5 310.6L426.6 311.5M426.6 311.0L474.7 313.8L426.6 314.7M426.6 325.7L445.0 328.5L426.6 329.4M426.6 328.8L473.0 331.6L426.6 332.5M426.6 330.2L470.0 333.0L426.6 333.9M426.6 335.2L473.0 338.0L426.6 338.9M426.6 339.2L470.0 342.0L426.6 342.9M426.6 341.4L460.0 344.2L426.6 345.1M426.6 348.2L440.0 351.0L426.6 351.9M426.6 357.5L483.0 360.3L426.6 361.2M426.6 363.7L458.0 366.5L426.6 367.4M426.6 379.2L444.0 382.0L426.6 382.9M426.6 384.8L480.5 387.6L426.6 388.5M426.6 393.4L452.0 396.2L426.6 397.1M426.6 404.2L445.0 407.0L426.6 407.9M426.6 407.8L468.0 410.6L426.6 411.5M426.6 410.9L473.0 413.7L426.6 414.6M426.6 415.7L440.0 418.5L426.6 419.4M426.6 418.2L445.0 421.0L426.6 421.9M426.6 424.2L440.0 427.0L426.6 427.9" fill="none" stroke="#ff0000" stroke-width="1.9" stroke-dasharray="1.5 3.2" stroke-linejoin="round"/></g><ellipse cx="436" cy="271.2" rx="34.9" ry="24.2" fill="#f0e000" fill-opacity="0.21" stroke="#000" stroke-width="2.3"/><text x="477" y="275.2" font-size="12.6" font-weight="bold" fill="#000" font-family="'Liberation Sans', sans-serif">X</text></svg></body></html>
